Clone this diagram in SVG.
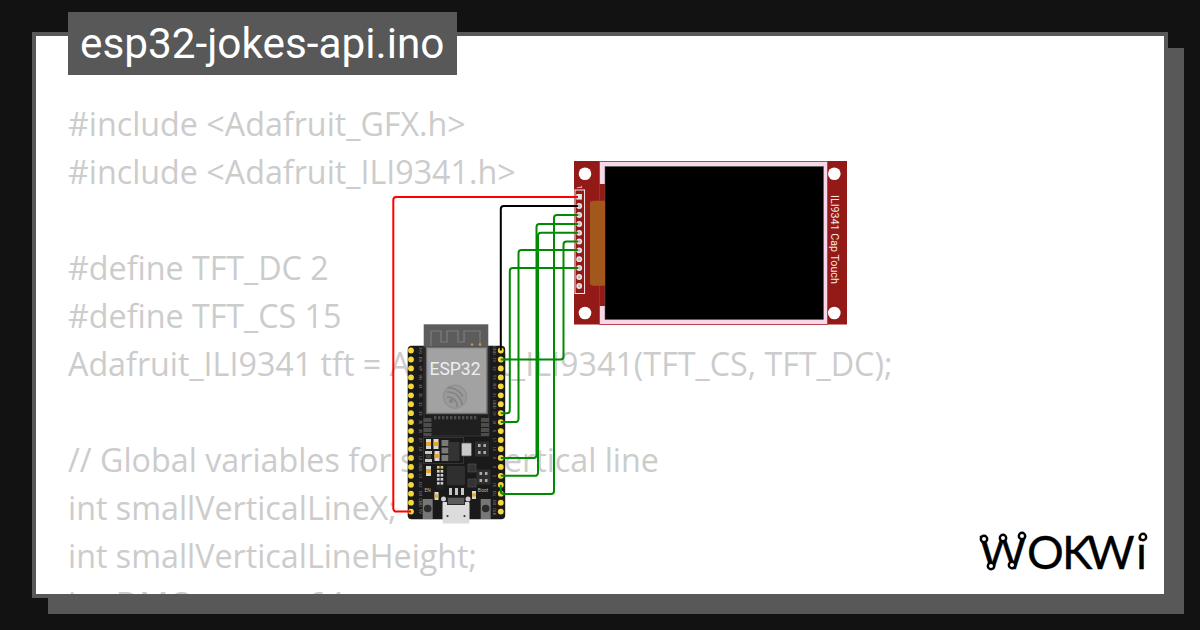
<svg xmlns="http://www.w3.org/2000/svg" width="1200" height="630" viewBox="0 0 1200 630">
<defs>
<style>
.code{font-family:"Open Sans","Noto Sans",sans-serif;font-size:32.26px;fill:#cccccc}
.w{fill:none;stroke-width:2;stroke-linejoin:round}
.g{stroke:#008a00}
.pl{font-family:"Liberation Sans",sans-serif;font-size:4px;fill:#8a8a8a;text-anchor:middle}
.ring{fill:#fff;stroke:#000;stroke-width:2.4}
</style>
<clipPath id="panel"><rect x="36" y="36" width="1128" height="558"/></clipPath>
<circle id="pin" r="2.9" fill="#f5d93c"/>
<g id="smd"><rect x="-2.5" y="-5" width="5" height="10" fill="#d8d8d8"/><rect x="-2.5" y="-2" width="5" height="4" fill="#e0a92c"/></g>
<g id="sot"><rect x="-7" y="-7.5" width="14" height="15" fill="#2e2e2e"/><rect x="-4" y="-5" width="2.6" height="3" fill="#aaa"/><rect x="1.4" y="-5" width="2.6" height="3" fill="#aaa"/><rect x="-4" y="2" width="2.6" height="3" fill="#aaa"/><rect x="1.4" y="2" width="2.6" height="3" fill="#aaa"/></g>
<g id="lcdpin"><circle r="2.9" fill="#e6e6e6"/><circle r="1.4" fill="#bdbdbd"/></g>
</defs>

<rect width="1200" height="630" fill="#121212"/>
<rect x="48" y="48" width="1136" height="566" fill="#585858"/>
<rect x="34" y="34" width="1132" height="562" fill="#ffffff" stroke="#585858" stroke-width="4"/>

<g clip-path="url(#panel)">
<text class="code" x="68" y="136">#include &lt;Adafruit_GFX.h&gt;</text>
<text class="code" x="68" y="184">#include &lt;Adafruit_ILI9341.h&gt;</text>
<text class="code" x="68" y="280">#define TFT_DC 2</text>
<text class="code" x="68" y="328">#define TFT_CS 15</text>
<text class="code" x="68" y="376">Adafruit_ILI9341 tft = Adafruit_ILI9341(TFT_CS, TFT_DC);</text>
<text class="code" x="68" y="472">// Global variables for small vertical line</text>
<text class="code" x="68" y="520">int smallVerticalLineX;</text>
<text class="code" x="68" y="568">int smallVerticalLineHeight;</text>
<text class="code" x="68" y="616">int DMC_num = 64;</text>
</g>

<rect x="68" y="12" width="389" height="63" fill="#585858"/>
<text x="80" y="58" font-family="Roboto,sans-serif" font-size="42.3px" fill="#ffffff">esp32-jokes-api.ino</text>

<g id="display">
<rect x="574" y="161" width="273" height="163.5" fill="#931a16"/>
<rect x="599.5" y="161.5" width="228" height="163" fill="#f6d8ea" stroke="#b8434f" stroke-width="1"/>
<rect x="599.5" y="184" width="6" height="122" fill="#931a16"/>
<rect x="605" y="166.5" width="218.5" height="153" fill="#000000" stroke="#555" stroke-width="0.6"/>
<path d="M605 200.7H593a3 3 0 0 0-3 3V282.7a3 3 0 0 0 3 3H605Z" fill="#a2581b"/>
<circle cx="585" cy="173.7" r="6.3" fill="#fff"/>
<circle cx="585" cy="313" r="6.3" fill="#fff"/>
<circle cx="834.3" cy="173.7" r="6.3" fill="#fff"/>
<circle cx="834.3" cy="313" r="6.3" fill="#fff"/>
<rect x="575" y="190" width="9.6" height="103.5" fill="none" stroke="#ffffff" stroke-width="0.9"/>
<rect x="576.3" y="194" width="5.6" height="5.6" fill="#e6e6e6"/>
<use href="#lcdpin" x="579.2" y="206"/>
<use href="#lcdpin" x="579.2" y="215"/>
<use href="#lcdpin" x="579.2" y="224"/>
<use href="#lcdpin" x="579.2" y="232.8"/>
<use href="#lcdpin" x="579.2" y="241.5"/>
<use href="#lcdpin" x="579.2" y="250.3"/>
<use href="#lcdpin" x="579.2" y="259.2"/>
<use href="#lcdpin" x="579.2" y="268"/>
<use href="#lcdpin" x="579.2" y="277"/>
<use href="#lcdpin" x="579.2" y="286"/>
<text transform="translate(577,185) rotate(90)" font-family="Roboto,sans-serif" font-size="8px" fill="#fff">1</text>
<text transform="translate(830.5,195) rotate(90)" font-family="Roboto,sans-serif" font-size="10.7px" fill="#f4e8e8">ILI9341 Cap Touch</text>
</g>

<g id="esp32">
<rect x="407.7" y="345.8" width="97.5" height="173.4" rx="4" fill="#1a1a1a"/>
<rect x="423.7" y="324.3" width="64.6" height="24" fill="#5c5c5c"/>
<path d="M431 346V331H441V342H447V331H458V342H464V331H480V346" fill="none" stroke="#7d7d7d" stroke-width="1.2"/>
<circle cx="472" cy="344.5" r="1.3" fill="#c79a2b"/><circle cx="480" cy="344.5" r="1.3" fill="#c79a2b"/>
<rect x="424" y="347" width="65" height="89" fill="#1f1f1f" stroke="#3c3c3c" stroke-width="0.8"/>
<rect x="426.5" y="347.5" width="60.5" height="66" fill="#a2a2a2" stroke="#6f6f6f" stroke-width="1.4"/>
<g fill="#4d4d4d">
<rect x="423.5" y="418" width="8" height="4"/><rect x="423.5" y="423" width="8" height="4"/><rect x="423.5" y="428" width="8" height="4"/><rect x="423.5" y="433" width="8" height="3"/>
<rect x="481" y="418" width="8" height="4"/><rect x="481" y="423" width="8" height="4"/><rect x="481" y="428" width="8" height="4"/><rect x="481" y="433" width="8" height="3"/>
<rect x="434" y="416" width="2.4" height="3.4"/><rect x="438" y="416" width="2.4" height="3.4"/><rect x="442" y="416" width="2.4" height="3.4"/><rect x="446" y="416" width="2.4" height="3.4"/><rect x="450" y="416" width="2.4" height="3.4"/><rect x="454" y="416" width="2.4" height="3.4"/><rect x="458" y="416" width="2.4" height="3.4"/><rect x="462" y="416" width="2.4" height="3.4"/><rect x="466" y="416" width="2.4" height="3.4"/><rect x="470" y="416" width="2.4" height="3.4"/><rect x="474" y="416" width="2.4" height="3.4"/>
</g>
<text x="455" y="375" font-family="Roboto,sans-serif" font-size="17.5px" fill="#eeeeee" text-anchor="middle">ESP32</text>
<g fill="none" stroke="#828282">
<circle cx="455" cy="396.7" r="11.7" fill="#9a9a9a" stroke="#8c8c8c" stroke-width="1"/>
<path d="M447 392a14 14 0 0 1 15 13M447.5 387.5a18 18 0 0 1 15.5 9M447 397a9 9 0 0 1 10 10" stroke-width="1.6"/>
<circle cx="451" cy="401" r="2" fill="#828282" stroke="none"/>
</g>

<rect x="423.5" y="437.5" width="40" height="26" fill="none" stroke="#333" stroke-width="1"/>
<use href="#smd" x="428.5" y="444"/>
<use href="#smd" x="436" y="444"/>
<use href="#smd" x="437" y="456"/>
<use href="#smd" x="428.5" y="471"/>
<g fill="#c8c8c8"><rect x="425" y="451" width="7" height="3"/><rect x="425" y="459" width="7" height="3"/></g>
<rect x="426" y="454.5" width="5" height="4" fill="#444"/>
<g fill="#7a7a7a"><rect x="441.5" y="440" width="7" height="6"/><rect x="441.5" y="447.5" width="7" height="6"/><rect x="441.5" y="455" width="7" height="6"/></g>
<rect x="448.5" y="442" width="11" height="19" fill="#333"/>
<rect x="461.5" y="443" width="10" height="13" rx="1" fill="#c9c9c9" stroke="#555" stroke-width="0.8"/>
<use href="#sot" x="482" y="449"/>
<use href="#sot" x="483.5" y="477"/>
<rect x="436.5" y="465" width="7" height="24" fill="#222"/>
<g fill="#d8c26a"><rect x="437" y="466" width="2.6" height="2.6"/><rect x="440.6" y="466" width="2.6" height="2.6"/></g>
<g fill="#cfcfcf"><rect x="437" y="470" width="2.6" height="2.6"/><rect x="440.6" y="470" width="2.6" height="2.6"/><rect x="437" y="474" width="2.6" height="2.6"/><rect x="440.6" y="474" width="2.6" height="2.6"/><rect x="437" y="478" width="2.6" height="2.6"/><rect x="440.6" y="478" width="2.6" height="2.6"/><rect x="437" y="482" width="2.6" height="2.6"/><rect x="440.6" y="482" width="2.6" height="2.6"/></g>
<rect x="447" y="466" width="18" height="19" rx="1" fill="#2f2f2f"/>
<g fill="#333" stroke="#555" stroke-width="0.6"><rect x="468" y="464" width="8" height="8"/><rect x="468" y="479" width="8" height="8"/></g>
<use href="#smd" transform="translate(436.5,496) scale(0.8)"/>
<use href="#smd" transform="translate(474,495) scale(0.8)"/>
<g fill="#c6c6c6"><rect x="449" y="488" width="3" height="7"/><rect x="455" y="488" width="3" height="7"/><rect x="461" y="488" width="3" height="7"/></g>

<rect x="422.7" y="499" width="10" height="20" fill="#777"/>
<circle cx="427.7" cy="508.5" r="3.8" fill="#2c2c2c"/>
<rect x="480.7" y="499" width="10" height="20" fill="#777"/>
<circle cx="485.7" cy="508.5" r="3.8" fill="#2c2c2c"/>
<text x="427.7" y="491.5" font-family="Roboto,sans-serif" font-size="5px" fill="#b5b5b5" text-anchor="middle">EN</text>
<text x="483" y="491.5" font-family="Roboto,sans-serif" font-size="5px" fill="#b5b5b5" text-anchor="middle">Boot</text>

<rect x="442.5" y="502" width="27" height="21.5" rx="1" fill="#dcdcdc"/>
<rect x="447" y="497" width="18" height="8" fill="#2a2a2a"/>
<path d="M449 498v6M451 498v6M453 498v6M455 498v6M457 498v6M459 498v6M461 498v6M463 498v6" stroke="#999" stroke-width="0.9"/>
<circle cx="443.5" cy="499" r="2.5" fill="#d0d0d0"/><circle cx="468" cy="499" r="2.5" fill="#d0d0d0"/>
<circle cx="447.5" cy="516" r="1.1" fill="#333"/><circle cx="464.5" cy="516" r="1.1" fill="#333"/>

<g id="pins-left">
<use href="#pin" x="411" y="350.5"/><use href="#pin" x="411" y="359.5"/><use href="#pin" x="411" y="368.4"/><use href="#pin" x="411" y="377.4"/><use href="#pin" x="411" y="386.3"/><use href="#pin" x="411" y="395.3"/><use href="#pin" x="411" y="404.2"/><use href="#pin" x="411" y="413.2"/><use href="#pin" x="411" y="422.1"/><use href="#pin" x="411" y="431.1"/><use href="#pin" x="411" y="440"/><use href="#pin" x="411" y="449"/><use href="#pin" x="411" y="457.9"/><use href="#pin" x="411" y="466.9"/><use href="#pin" x="411" y="475.8"/><use href="#pin" x="411" y="484.8"/><use href="#pin" x="411" y="493.7"/><use href="#pin" x="411" y="502.7"/><use href="#pin" x="411" y="511.6"/>
</g>
<g id="pins-right">
<use href="#pin" x="500.8" y="350.5"/><use href="#pin" x="500.8" y="359.5"/><use href="#pin" x="500.8" y="368.4"/><use href="#pin" x="500.8" y="377.4"/><use href="#pin" x="500.8" y="386.3"/><use href="#pin" x="500.8" y="395.3"/><use href="#pin" x="500.8" y="404.2"/><use href="#pin" x="500.8" y="413.2"/><use href="#pin" x="500.8" y="422.1"/><use href="#pin" x="500.8" y="431.1"/><use href="#pin" x="500.8" y="440"/><use href="#pin" x="500.8" y="449"/><use href="#pin" x="500.8" y="457.9"/><use href="#pin" x="500.8" y="466.9"/><use href="#pin" x="500.8" y="475.8"/><use href="#pin" x="500.8" y="484.8"/><use href="#pin" x="500.8" y="493.7"/><use href="#pin" x="500.8" y="502.7"/><use href="#pin" x="500.8" y="511.6"/>
</g>
<g id="labels-left">
<text class="pl" transform="translate(419,350.5) rotate(90)">3V3</text><text class="pl" transform="translate(419,359.5) rotate(90)">EN</text><text class="pl" transform="translate(419,368.4) rotate(90)">VP</text><text class="pl" transform="translate(419,377.4) rotate(90)">VN</text><text class="pl" transform="translate(419,386.3) rotate(90)">34</text><text class="pl" transform="translate(419,395.3) rotate(90)">35</text><text class="pl" transform="translate(419,404.2) rotate(90)">32</text><text class="pl" transform="translate(419,413.2) rotate(90)">33</text><text class="pl" transform="translate(419,422.1) rotate(90)">25</text><text class="pl" transform="translate(419,431.1) rotate(90)">26</text><text class="pl" transform="translate(419,440) rotate(90)">27</text><text class="pl" transform="translate(419,449) rotate(90)">14</text><text class="pl" transform="translate(419,457.9) rotate(90)">12</text><text class="pl" transform="translate(419,466.9) rotate(90)">GND</text><text class="pl" transform="translate(419,475.8) rotate(90)">13</text><text class="pl" transform="translate(419,484.8) rotate(90)">D2</text><text class="pl" transform="translate(419,493.7) rotate(90)">D3</text><text class="pl" transform="translate(419,502.7) rotate(90)">CMD</text><text class="pl" transform="translate(419,511.6) rotate(90)">5V</text>
</g>
<g id="labels-right">
<text class="pl" transform="translate(493,350.5) rotate(90)">GND</text><text class="pl" transform="translate(493,359.5) rotate(90)">23</text><text class="pl" transform="translate(493,368.4) rotate(90)">22</text><text class="pl" transform="translate(493,377.4) rotate(90)">TX</text><text class="pl" transform="translate(493,386.3) rotate(90)">RX</text><text class="pl" transform="translate(493,395.3) rotate(90)">21</text><text class="pl" transform="translate(493,404.2) rotate(90)">GND</text><text class="pl" transform="translate(493,413.2) rotate(90)">19</text><text class="pl" transform="translate(493,422.1) rotate(90)">18</text><text class="pl" transform="translate(493,431.1) rotate(90)">5</text><text class="pl" transform="translate(493,440) rotate(90)">17</text><text class="pl" transform="translate(493,449) rotate(90)">16</text><text class="pl" transform="translate(493,457.9) rotate(90)">4</text><text class="pl" transform="translate(493,466.9) rotate(90)">0</text><text class="pl" transform="translate(493,475.8) rotate(90)">2</text><text class="pl" transform="translate(493,484.8) rotate(90)">15</text><text class="pl" transform="translate(493,493.7) rotate(90)">D1</text><text class="pl" transform="translate(493,502.7) rotate(90)">D0</text><text class="pl" transform="translate(493,511.6) rotate(90)">CLK</text>
</g>
</g>

<g id="connectors">
<path class="w" stroke="#ff0000" d="M411 511.6H396.3a3 3 0 0 1-3-3V200a3 3 0 0 1 3-3H578"/>
<path class="w" stroke="#000000" d="M500.8 350.5V209a3 3 0 0 1 3-3H578"/>
<path class="w g" d="M500.8 359.5H560.5a3 3 0 0 0 3-3V244.5a3 3 0 0 1 3-3H578"/>
<path class="w g" d="M500.8 413.2H506.8a3 3 0 0 0 3-3V271a3 3 0 0 1 3-3H578"/>
<path class="w g" d="M500.8 422.1H515.5a3 3 0 0 0 3-3V253a3 3 0 0 1 3-3H578"/>
<path class="w g" d="M500.8 457.9H533.5a3 3 0 0 0 3-3V227a3 3 0 0 1 3-3H578"/>
<path class="w g" d="M500.8 475.8H535a3 3 0 0 0 3-3V235.8a3 3 0 0 1 3-3H578"/>
<path class="w g" d="M500.8 484.8V491a3 3 0 0 0 3 3H551a3 3 0 0 0 3-3V218a3 3 0 0 1 3-3H578"/>
</g>

<g id="logo">
<text x="979 1027 1062 1087 1136" y="569" font-family="Lato,'Liberation Sans',sans-serif" font-size="46px" fill="#000" stroke="#000" stroke-width="0.3">WOKWi</text>
<circle class="ring" cx="984" cy="539" r="3.2"/><circle class="ring" cx="1003" cy="538" r="3.2"/><circle class="ring" cx="1022" cy="536" r="3.2"/><circle class="ring" cx="991" cy="566" r="3.2"/><circle class="ring" cx="1012" cy="565" r="3.2"/><circle class="ring" cx="1143" cy="537" r="3.2"/>
</g>
</svg>
